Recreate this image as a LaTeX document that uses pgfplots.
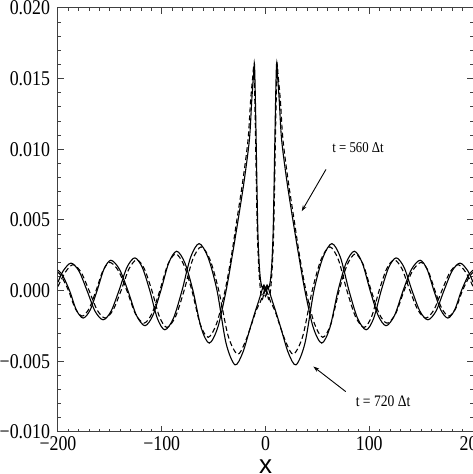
\documentclass[border=0pt]{standalone}
\usepackage{fontspec}
\setmainfont{Liberation Serif}[FakeStretch=0.85]
\setsansfont{Liberation Sans}
\usepackage{pgfplots}
\pgfplotsset{compat=1.18}
\usetikzlibrary{arrows.meta}

\begin{document}
\begin{tikzpicture}
\begin{axis}[
    name=ax,
    scale only axis,
    width=207.5pt,
    height=212pt,
    xmin=-200, xmax=200,
    ymin=-0.01, ymax=0.02,
    xtick={-200,-100,0,100,200},
    xticklabels={−200,−100,0,100,200},
    ytick={-0.01,-0.005,0,0.005,0.01,0.015,0.02},
    yticklabels={−0.010,−0.005,0.000,0.005,0.010,0.015,0.020},
    minor x tick num=9,
    minor y tick num=4,
    tick align=inside,
    major tick length=3pt,
    minor tick length=1.6pt,
    axis line style={black!75, line width=0.5pt},
    every tick/.style={black!75, line width=0.5pt},
    tick label style={font=\fontsize{10.5}{12}\selectfont},
    xticklabel style={yshift=1.5pt},
    yticklabel style={xshift=-0.5pt},
    xlabel={x},
    xlabel style={font=\sffamily\fontsize{13}{13}\selectfont, yshift=2pt},
    every axis plot/.append style={black, line width=0.55pt, smooth, no markers},
]

% t = 720 dt, solid
\addplot[solid] coordinates {
(-200,0.0006) (-195,0.0014) (-187.5,0.00195) (-179.75,0.00138) (-172,0)
(-164.25,-0.00146) (-156.5,-0.00206) (-148.9,-0.00146) (-141.25,0)
(-133.6,0.00164) (-126,0.00232) (-118.75,0.00164) (-111.5,0)
(-104.25,-0.00196) (-97,-0.00277) (-88.75,-0.00196) (-80.5,0)
(-72.25,0.00235) (-64,0.00333) (-55.35,0.00235) (-46.7,0)
(-38.05,-0.00371) (-29.4,-0.00525) (-22,-0.0044) (-15,-0.0027)
(-10,-0.0015) (-6,-0.0006) (-3.5,0) (-2,0.0003) (-1,-0.0001) (0,0.0002)
(1,-0.0001) (2,0.0003) (3.5,0) (6,-0.0006) (10,-0.0015) (15,-0.0027)
(22,-0.0044) (29.4,-0.00525) (38.05,-0.00371) (46.7,0) (55.35,0.00235)
(64,0.00333) (72.25,0.00235) (80.5,0) (88.75,-0.00196) (97,-0.00277)
(104.25,-0.00196) (111.5,0) (118.75,0.00164) (126,0.00232)
(133.6,0.00164) (141.25,0) (148.9,-0.00146) (156.5,-0.00206)
(164.25,-0.00146) (172,0) (179.75,0.00138) (187.5,0.00195)
(195,0.0014) (200,0.0006)
};

% t = 720 dt, dashed
\addplot[dash pattern=on 2.5pt off 1.5pt] coordinates {
(-200,0.0003) (-193,0.0013) (-185.5,0.00184) (-177.75,0.0013) (-170,0)
(-162.25,-0.00137) (-154.5,-0.00194) (-146.9,-0.00137) (-139.25,0)
(-131.6,0.00154) (-124,0.00218) (-116.75,0.00154) (-109.5,0)
(-102.25,-0.00184) (-95,-0.0026) (-86.75,-0.00184) (-78.5,0)
(-70.25,0.00219) (-62,0.0031) (-53.5,0.00219) (-45,0)
(-36,-0.0032) (-27,-0.0045) (-20,-0.0037) (-14,-0.0025)
(-9,-0.0014) (-5,-0.0008) (-3,-0.0004) (-1.5,-0.0001) (0,-0.0003)
(1.5,-0.0001) (3,-0.0004) (5,-0.0008) (9,-0.0014) (14,-0.0025)
(20,-0.0037) (27,-0.0045) (36,-0.0032) (45,0) (53.5,0.00219)
(62,0.0031) (70.25,0.00219) (78.5,0) (86.75,-0.00184) (95,-0.0026)
(102.25,-0.00184) (109.5,0) (116.75,0.00154) (124,0.00218)
(131.6,0.00154) (139.25,0) (146.9,-0.00137) (154.5,-0.00194)
(162.25,-0.00137) (170,0) (177.75,0.0013) (185.5,0.00184)
(193,0.0013) (200,0.0003)
};

% t = 560 dt, solid
\addplot[solid] coordinates {
(-200,0.00145) (-195.4,0.00106) (-188.85,0) (-182.3,-0.00137)
(-175.7,-0.00194) (-169,-0.00137) (-162.35,0) (-155.7,0.00152)
(-149,0.00215) (-140.8,0.00152) (-132.6,0) (-124.4,-0.00175)
(-116.2,-0.00248) (-108.55,-0.00175) (-100.9,0) (-93.25,0.00197)
(-85.6,0.00279) (-77.75,0.00197) (-69.9,0) (-62.05,-0.00262)
(-54.2,-0.00371) (-46,-0.0026) (-38,0) (-32,0.0025) (-26.4,0.0050)
(-20.5,0.0078) (-15.5,0.0107) (-13.3,0.0134) (-11.5,0.0153)
(-10.6,0.0160) (-9.5,0.0126) (-7.5,0.0046) (-6,0.0018) (-4.5,0.0006)
(-3,0.0002) (-1.5,0.0004) (0,0.0001)
(1.5,0.0004) (3,0.0002) (4.5,0.0006) (6,0.0018) (7.5,0.0046)
(9.5,0.0126) (10.6,0.0160) (11.5,0.0153) (13.3,0.0134) (15.5,0.0107)
(20.5,0.0078) (26.4,0.0050) (32,0.0025) (38,0) (46,-0.0026)
(54.2,-0.00371) (62.05,-0.00262) (69.9,0) (77.75,0.00197)
(85.6,0.00279) (93.25,0.00197) (100.9,0) (108.55,-0.00175)
(116.2,-0.00248) (124.4,-0.00175) (132.6,0) (140.8,0.00152)
(149,0.00215) (155.7,0.00152) (162.35,0) (169,-0.00137)
(175.7,-0.00194) (182.3,-0.00137) (188.85,0) (195.4,0.00106)
(200,0.00145)
};

% t = 560 dt, dashed
\addplot[dash pattern=on 2.5pt off 1.5pt] coordinates {
(-200,0.0013) (-196.4,0.00098) (-189.85,0) (-183.3,-0.00127)
(-176.7,-0.0018) (-170,-0.00127) (-163.35,0) (-156.7,0.00141)
(-150,0.002) (-141.8,0.00141) (-133.6,0) (-125.4,-0.00163)
(-117.2,-0.0023) (-109.55,-0.00163) (-101.9,0) (-94.25,0.00183)
(-86.6,0.0026) (-78.75,0.00183) (-70.9,0) (-63.05,-0.00235)
(-55.2,-0.0033) (-47,-0.0023) (-39,0) (-33,0.0024) (-27.6,0.0050)
(-21.8,0.0078) (-16.8,0.0107) (-14.4,0.0134) (-12.2,0.0152)
(-11.2,0.0158) (-10,0.0124) (-8,0.0045) (-6.3,0.0014) (-4.5,-0.0002)
(-3,-0.0006) (-1.5,-0.0002) (0,-0.0004)
(1.5,-0.0002) (3,-0.0006) (4.5,-0.0002) (6.3,0.0014) (8,0.0045)
(10,0.0124) (11.2,0.0158) (12.2,0.0152) (14.4,0.0134) (16.8,0.0107)
(21.8,0.0078) (27.6,0.0050) (33,0.0024) (39,0) (47,-0.0023)
(55.2,-0.0033) (63.05,-0.00235) (70.9,0) (78.75,0.00183)
(86.6,0.0026) (94.25,0.00183) (101.9,0) (109.55,-0.00163)
(117.2,-0.0023) (125.4,-0.00163) (133.6,0) (141.8,0.00141)
(150,0.002) (156.7,0.00141) (163.35,0) (170,-0.00127)
(176.7,-0.0018) (183.3,-0.00127) (189.85,0) (196.4,0.00098)
(200,0.0013)
};

\node[font=\fontsize{7.5}{9}\selectfont] at (axis cs:89.2,0.0101) {t = 560 Δt};
\draw[-{Stealth[length=3pt,width=2pt]}, line width=0.45pt]
    (axis cs:58.3,0.00858) -- (axis cs:34.9,0.00562);
\node[font=\fontsize{8}{9}\selectfont] at (axis cs:113.3,-0.0078) {t = 720 Δt};
\draw[-{Stealth[length=3pt,width=2pt]}, line width=0.45pt]
    (axis cs:77.3,-0.00714) -- (axis cs:46.1,-0.00537);
\end{axis}
\pgfresetboundingbox
\path[use as bounding box] ([xshift=-29pt,yshift=-21pt]ax.south west)
    rectangle ([yshift=4pt]ax.north east);
\end{tikzpicture}
\end{document}
